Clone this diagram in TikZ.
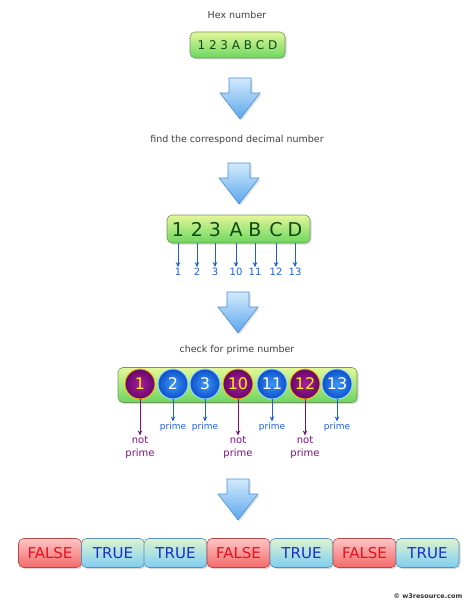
\documentclass[tikz,border=0pt]{standalone}
\usepackage{fontspec}
\setmainfont{DejaVu Sans}
\usetikzlibrary{shadows,positioning,arrows.meta}
\definecolor{titlegray}{HTML}{404040}
\definecolor{boxtop}{HTML}{E4F79A}
\definecolor{boxbot}{HTML}{6CD660}
\definecolor{boxedge}{HTML}{6E9A5A}
\definecolor{digitgreen}{HTML}{0E4A12}
\definecolor{arrtop}{HTML}{D2EAFC}
\definecolor{arrbot}{HTML}{5BA6EC}
\definecolor{arredge}{HTML}{4A8ED6}
\definecolor{numblue}{HTML}{1E5FE0}
\definecolor{primpurple}{HTML}{7E0F80}
\definecolor{ballblueA}{HTML}{3A98F4}
\definecolor{ballblueB}{HTML}{0E4FCC}
\definecolor{ballpurpA}{HTML}{A81CA4}
\definecolor{ballpurpB}{HTML}{660866}
\definecolor{falsetop}{HTML}{FFC4C4}
\definecolor{falsebot}{HTML}{F26A6A}
\definecolor{falseedge}{HTML}{B84848}
\definecolor{falsetext}{HTML}{E8101E}
\definecolor{truetop}{HTML}{DDF4D0}
\definecolor{truebot}{HTML}{7FCDF2}
\definecolor{trueedge}{HTML}{5A8EB4}
\definecolor{truetext}{HTML}{1A2EC8}

\tikzset{
  downarrow/.pic={
    \shade[top color=arrtop, bottom color=arrbot, draw=arredge, line width=0.6pt,
      drop shadow={opacity=0.25, shadow xshift=1.5pt, shadow yshift=-1.5pt}]
      (-11,0) -- (11,0) -- (11,15) -- (20,15) -- (0,41) -- (-20,15) -- (-11,15) -- cycle;
  }
}

\begin{document}
\begin{tikzpicture}[x=1pt,y=-1pt,
  title/.style={text=titlegray, font=\fontsize{9.5}{10}\selectfont},
  greenbox/.style={rounded corners=5pt, top color=boxtop, bottom color=boxbot,
    draw=boxedge, line width=0.6pt,
    drop shadow={opacity=0.3, shadow xshift=1.5pt, shadow yshift=-1.5pt}},
  bigdigit/.style={text=digitgreen, font=\fontsize{19}{20}\selectfont,
    text height=14pt, text depth=0pt, minimum height=28pt, inner sep=0pt},
  numlbl/.style={text=numblue, font=\fontsize{10}{10}\selectfont, inner sep=1pt},
  bluearrow/.style={numblue, line width=0.9pt, -{Stealth[length=5pt,width=4.5pt]}},
  purplearrow/.style={primpurple, line width=0.9pt, -{Stealth[length=5pt,width=4.5pt]}},
  ball/.style={circle, minimum size=30pt, inner sep=0pt, line width=0.9pt,
    text height=11.5pt, text depth=0pt, font=\fontsize{16}{16}\selectfont},
  purpleball/.style={ball, inner color=ballpurpA, outer color=ballpurpB,
    draw=yellow!55!orange, text=yellow},
  blueball/.style={ball, inner color=ballblueA, outer color=ballblueB,
    draw=white!60!cyan, text=white},
  primelbl/.style={text=numblue, font=\fontsize{9}{10}\selectfont, inner sep=1pt},
  notprimelbl/.style={text=primpurple, font=\fontsize{10}{13}\selectfont,
    align=center, inner sep=1pt},
  falsebox/.style={rounded corners=5pt, top color=falsetop, bottom color=falsebot,
    draw=falseedge, line width=0.6pt, minimum width=63pt, minimum height=29pt,
    text=falsetext, font=\fontsize{15}{15}\selectfont,
    drop shadow={opacity=0.3, shadow xshift=1.5pt, shadow yshift=-1.5pt}},
  truebox/.style={rounded corners=5pt, top color=truetop, bottom color=truebot,
    draw=trueedge, line width=0.6pt, minimum width=63pt, minimum height=29pt,
    text=truetext, font=\fontsize{15}{15}\selectfont,
    drop shadow={opacity=0.3, shadow xshift=1.5pt, shadow yshift=-1.5pt}}
]
\useasboundingbox (0,0) rectangle (474,602);

% hex input
\node[title] (hextitle) at (237,15) {Hex number};
\node[greenbox, minimum width=95pt, minimum height=26pt, text=digitgreen,
  font=\fontsize{12}{12}\selectfont] (hexbox) at (237.5,45) {1 2 3 A B C D};
\pic at (240,78) {downarrow};

% decimal values
\node[title] (dectitle) at (237,140) {find the correspond decimal number};
\pic at (239,163) {downarrow};
\node[greenbox, minimum width=143pt, minimum height=28pt] (decbox) at (238.5,229) {};
\foreach \d/\x/\n [count=\i] in {1/178/1, 2/197/2, 3/215/3, A/236/10, B/255/11, C/276/12, D/295/13} {
  \node[bigdigit] (d\i) at (\x,229) {\d};
  \node[numlbl] (n\i) at (\x,272) {\n};
  \draw[bluearrow] (d\i.south) -- (n\i.north);
}
\pic at (238,292) {downarrow};

% prime test
\node[title] (primetitle) at (237,350) {check for prime number};
\node[greenbox, minimum width=239pt, minimum height=35pt] (primebar) at (237.5,385) {};
\foreach \n/\x/\s [count=\i] in {1/140/purpleball, 2/173/blueball, 3/205/blueball,
    10/238/purpleball, 11/272/blueball, 12/305/purpleball, 13/337/blueball} {
  \node[\s] (c\i) at (\x,384) {\n};
}
\foreach \i in {1,4,6} {
  \node[notprimelbl, below=36pt of c\i] (np\i) {not\\prime};
  \draw[purplearrow] (c\i.south) -- (np\i.north);
}
\foreach \i in {2,3,5,7} {
  \node[primelbl, below=22pt of c\i] (p\i) {prime};
  \draw[bluearrow] (c\i.south) -- (p\i.north);
}
\pic at (238,479) {downarrow};

% results
\foreach \t/\s/\x [count=\i] in {FALSE/falsebox/50, TRUE/truebox/113, TRUE/truebox/175.5,
    FALSE/falsebox/238.5, TRUE/truebox/301.5, FALSE/falsebox/364.5, TRUE/truebox/427.5} {
  \node[\s] (r\i) at (\x,553) {\t};
}

\node[font=\fontsize{6.5}{7}\selectfont\bfseries, text=black!80] (copy) at (428,596) {© w3resource.com};
\end{tikzpicture}
\end{document}
